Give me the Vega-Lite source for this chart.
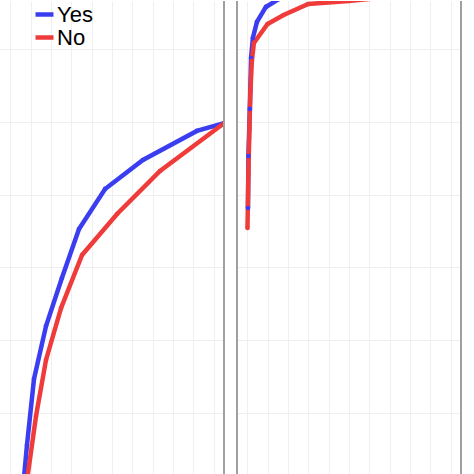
{
  "$schema": "https://vega.github.io/schema/vega-lite/v6.json",
  "padding": 0,
  "spacing": 11,
  "background": "white",
  "datasets": {
    "left": [
      {"x": 0.68, "y": 0.12, "group": "Yes"},
      {"x": 0.825, "y": 0.56, "group": "Yes"},
      {"x": 1.17, "y": 1.467, "group": "Yes"},
      {"x": 1.76, "y": 2.195, "group": "Yes"},
      {"x": 2.54, "y": 2.854, "group": "Yes"},
      {"x": 3.38, "y": 3.527, "group": "Yes"},
      {"x": 4.66, "y": 4.077, "group": "Yes"},
      {"x": 6.52, "y": 4.475, "group": "Yes"},
      {"x": 9.17, "y": 4.874, "group": "Yes"},
      {"x": 10.5, "y": 4.98, "group": "Yes"},
      {"x": 0.85, "y": 0.12, "group": "No"},
      {"x": 1.27, "y": 0.959, "group": "No"},
      {"x": 1.76, "y": 1.728, "group": "No"},
      {"x": 2.5, "y": 2.442, "group": "No"},
      {"x": 3.53, "y": 3.17, "group": "No"},
      {"x": 5.25, "y": 3.733, "group": "No"},
      {"x": 7.36, "y": 4.324, "group": "No"},
      {"x": 10.5, "y": 4.98, "group": "No"}
    ],
    "right": [
      {"x": 0.04, "y": 3.816, "group": "Yes"},
      {"x": 0.06, "y": 4.53, "group": "Yes"},
      {"x": 0.13, "y": 5.176, "group": "Yes"},
      {"x": 0.19, "y": 5.876, "group": "Yes"},
      {"x": 0.28, "y": 6.151, "group": "Yes"},
      {"x": 0.48, "y": 6.371, "group": "Yes"},
      {"x": 0.92, "y": 6.577, "group": "Yes"},
      {"x": 1.56, "y": 6.687, "group": "Yes"},
      {"x": 2.2, "y": 6.79, "group": "Yes"},
      {"x": 0.015, "y": 3.541, "group": "No"},
      {"x": 0.06, "y": 4.297, "group": "No"},
      {"x": 0.11, "y": 4.915, "group": "No"},
      {"x": 0.16, "y": 5.423, "group": "No"},
      {"x": 0.23, "y": 5.835, "group": "No"},
      {"x": 0.33, "y": 6.082, "group": "No"},
      {"x": 1.0, "y": 6.343, "group": "No"},
      {"x": 1.79, "y": 6.467, "group": "No"},
      {"x": 3.0, "y": 6.618, "group": "No"},
      {"x": 4.99, "y": 6.66, "group": "No"},
      {"x": 7.6, "y": 6.73, "group": "No"}
    ]
  },
  "hconcat": [
    {
      "width": 224,
      "height": 474,
      "data": {"name": "left"},
      "encoding": {
        "x": {"field": "x", "type": "quantitative", "scale": {"domain": [-0.5, 10.5], "nice": false, "zero": false}, "axis": {"values": [0, 1, 2, 3, 4, 5, 6, 7, 8, 9, 10]}},
        "y": {"field": "y", "type": "quantitative", "scale": {"domain": [0.148, 6.659], "nice": false, "zero": false}, "axis": {"values": [1, 2, 3, 4, 5, 6]}},
        "color": {"field": "group", "type": "nominal", "sort": ["Yes", "No"], "scale": {"domain": ["Yes", "No"], "range": ["#3b3ef0", "#f03b3b"]}}
      },
      "layer": [
        {"mark": {"type": "line", "strokeWidth": 4.5, "clip": true}},
        {"mark": {"type": "point", "filled": true, "size": 22, "opacity": 1, "clip": true}},
        {"mark": {"type": "rule", "color": "#a0a0a0", "strokeWidth": 1.5}, "encoding": {"x": {"datum": 10.5}, "y": null, "color": null}}
      ]
    },
    {
      "width": 224,
      "height": 474,
      "data": {"name": "right"},
      "encoding": {
        "x": {"field": "x", "type": "quantitative", "scale": {"domain": [-0.5, 10.5], "nice": false, "zero": false}, "axis": {"values": [0, 1, 2, 3, 4, 5, 6, 7, 8, 9, 10]}},
        "y": {"field": "y", "type": "quantitative", "scale": {"domain": [0.148, 6.659], "nice": false, "zero": false}, "axis": {"values": [1, 2, 3, 4, 5, 6]}},
        "color": {"field": "group", "type": "nominal", "sort": ["Yes", "No"]}
      },
      "layer": [
        {"mark": {"type": "line", "strokeWidth": 4.5, "clip": true}},
        {"mark": {"type": "point", "filled": true, "size": 22, "opacity": 1, "clip": true}},
        {"mark": {"type": "rule", "color": "#a0a0a0", "strokeWidth": 1.5}, "encoding": {"x": {"datum": -0.5}, "y": null, "color": null}},
        {"mark": {"type": "rule", "color": "#a0a0a0", "strokeWidth": 1.5}, "encoding": {"x": {"datum": 10.5}, "y": null, "color": null}}
      ]
    }
  ],
  "resolve": {"scale": {"color": "shared"}},
  "config": {
    "view": {"stroke": null},
    "axis": {
      "grid": true,
      "gridColor": "#efefef",
      "gridWidth": 1,
      "labels": false,
      "ticks": false,
      "domain": false,
      "title": null
    },
    "legend": {
      "orient": "none",
      "legendX": 33,
      "legendY": 2,
      "title": null,
      "padding": 0,
      "symbolType": "stroke",
      "symbolSize": 324,
      "symbolStrokeWidth": 4.5,
      "labelFontSize": 22,
      "labelFont": "Liberation Sans",
      "labelColor": "black",
      "labelOffset": 1,
      "rowPadding": 0
    }
  }
}
